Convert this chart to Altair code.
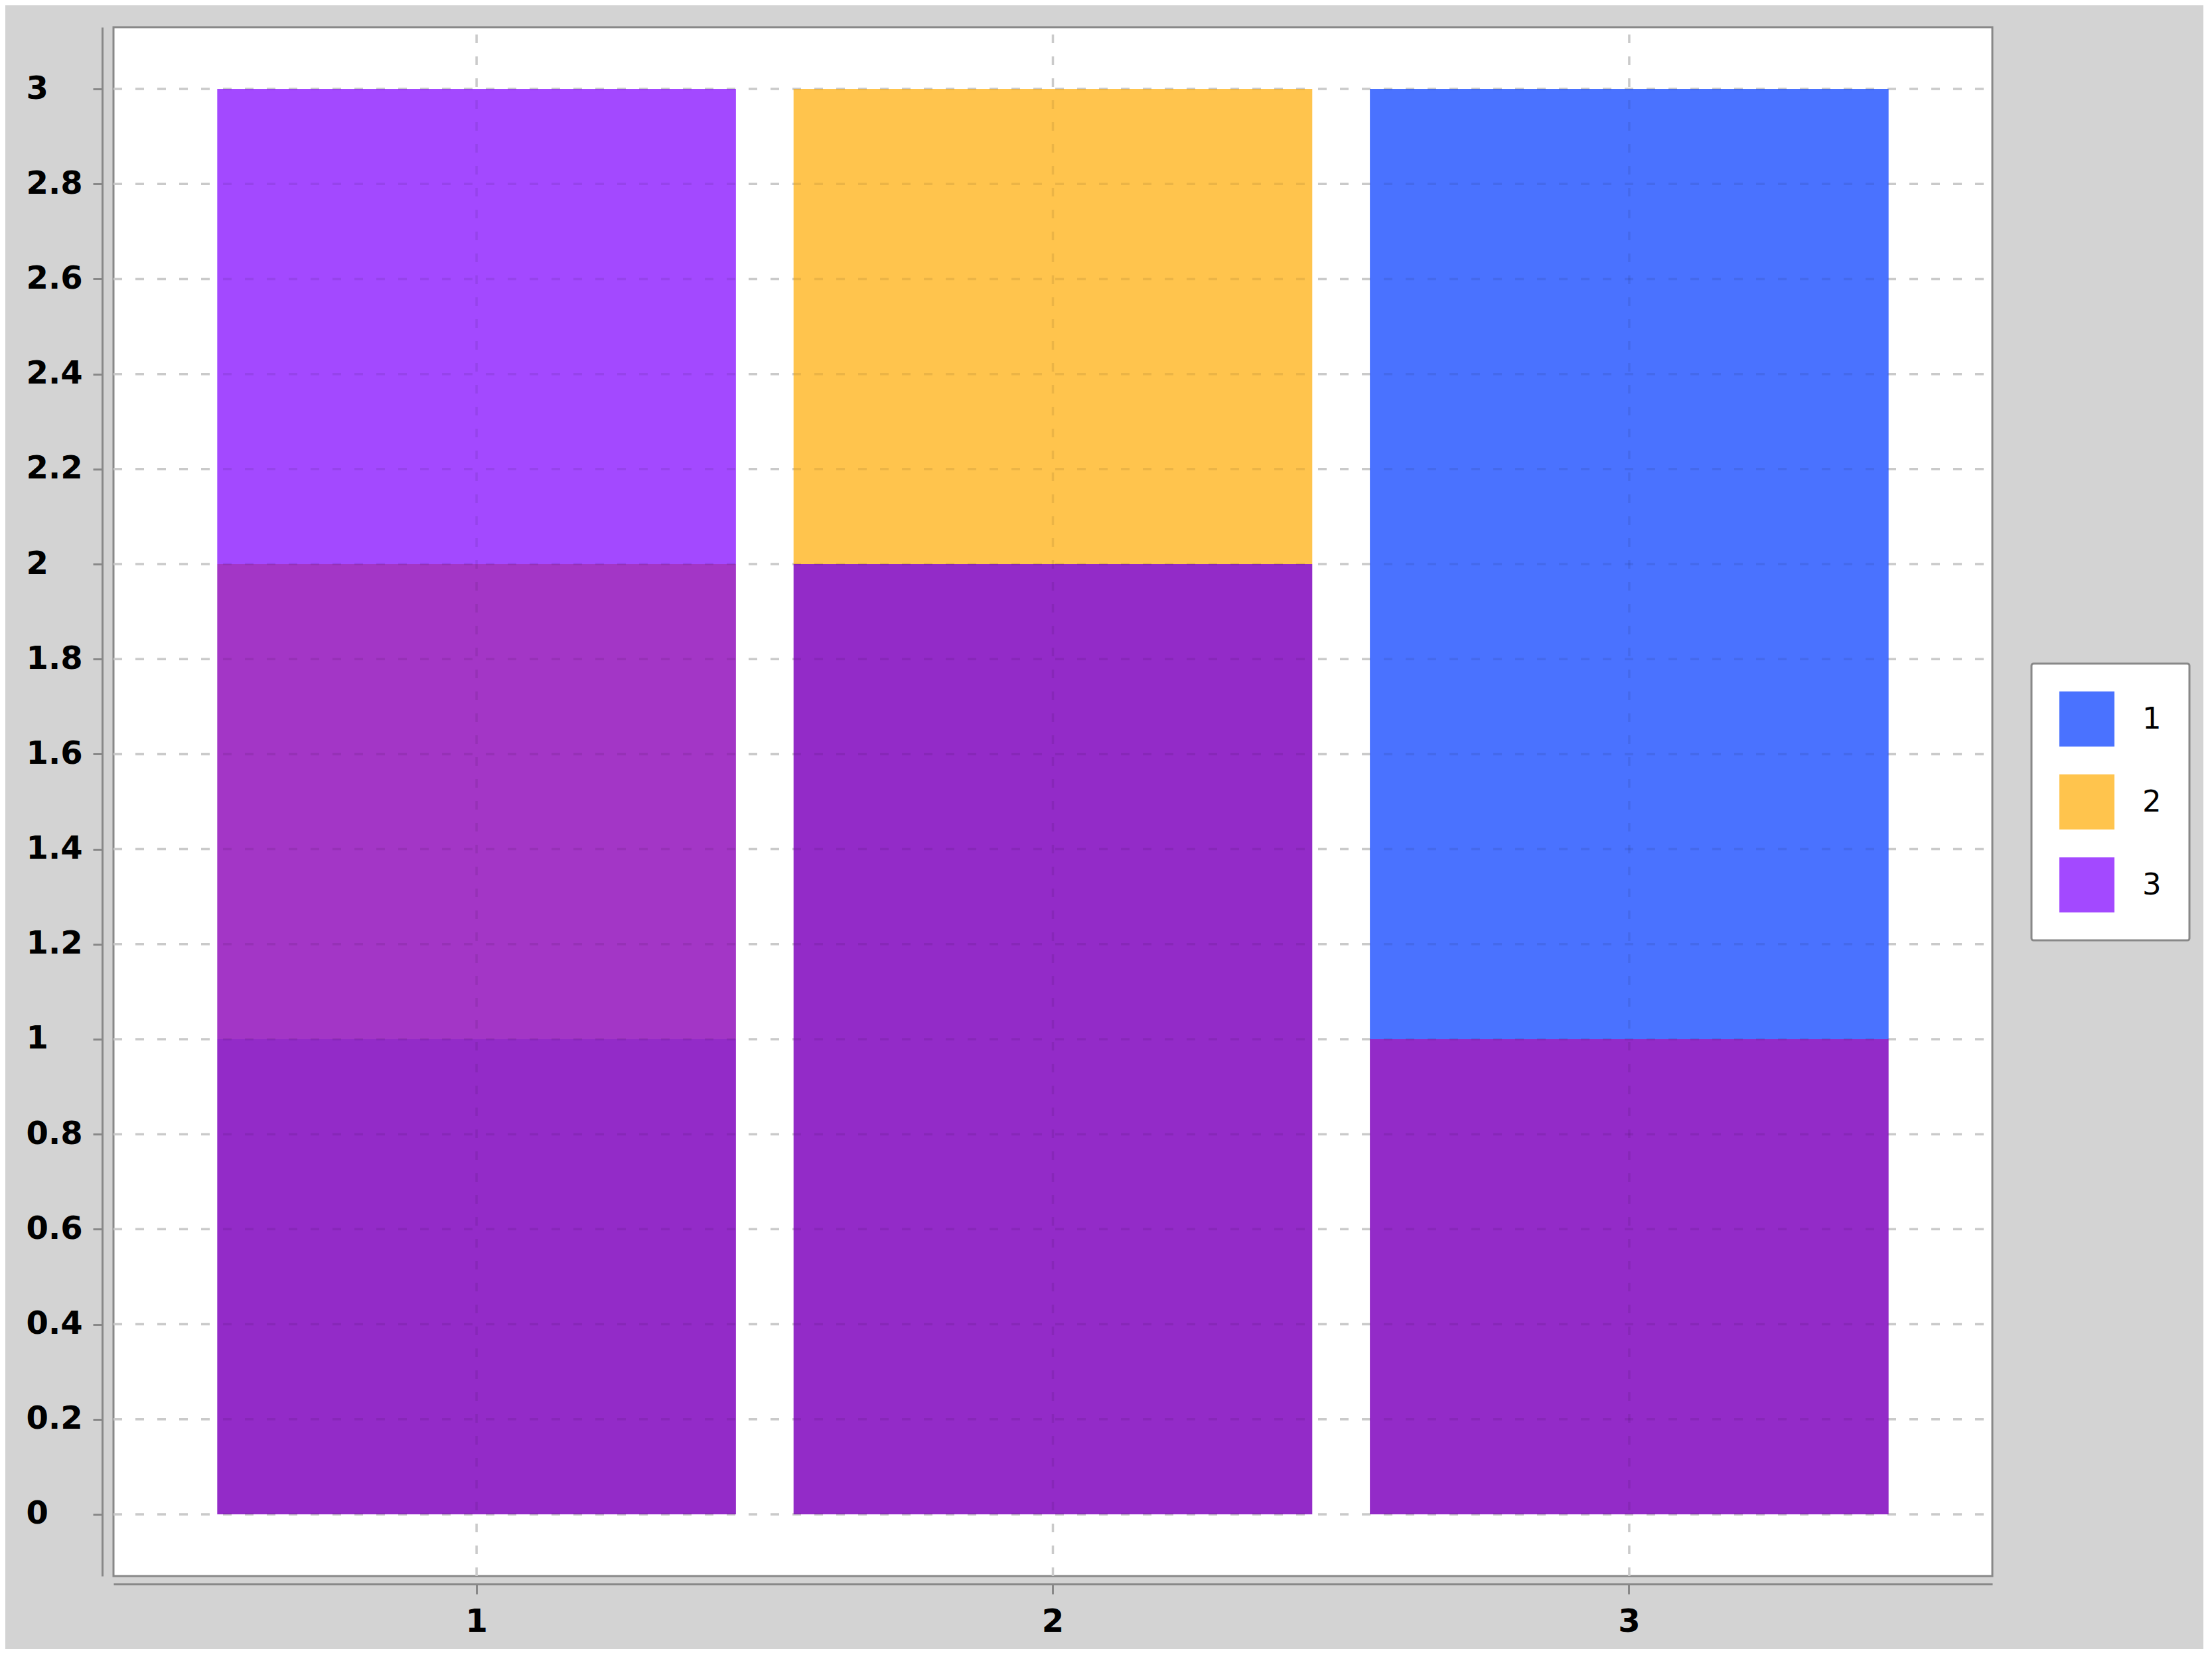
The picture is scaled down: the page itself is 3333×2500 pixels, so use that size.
import altair as alt
import pandas as pd

# ---- data ----
categories = ["1", "2", "3"]
series_names = ["1", "2", "3"]
series_colors = ["#4A72FF", "#FFC44D", "#A349FF"]

# stacked segments per category (start / end value and colour key)
seg_category = ["1", "1", "1", "2", "2", "3", "3"]
seg_from = [0, 1, 2, 0, 2, 0, 1]
seg_to = [1, 2, 3, 2, 3, 1, 3]
seg_key = ["overlap", "overlap2", "3", "overlap", "2", "overlap", "1"]

extra_keys = ["overlap", "overlap2"]
extra_colors = ["#932BC8", "#A336C6"]

y_ticks = [0, 0.2, 0.4, 0.6, 0.8, 1, 1.2, 1.4, 1.6, 1.8, 2, 2.2, 2.4, 2.6, 2.8, 3]
y_domain = [-0.13, 3.13]

seg_df = pd.DataFrame({"category": seg_category, "start": seg_from, "end": seg_to, "key": seg_key})
ytick_df = pd.DataFrame({"v": y_ticks})
cat_df = pd.DataFrame({"category": categories})

W, H = 2831, 2334
FONT = "DejaVu Sans"
AX = "#888888"

xscale = alt.Scale(domain=categories, paddingInner=0.1, paddingOuter=0.18)
yscale = alt.Scale(domain=y_domain, nice=False, zero=False)

x_axis = alt.Axis(
    title=None, labelAngle=0, labelFont=FONT, labelFontSize=48, labelFontWeight="bold",
    labelColor="black", labelPadding=18, tickSize=15, tickWidth=3, tickColor=AX,
    domainColor=AX, domainWidth=3, offset=12, grid=False, labelOverlap=False,
)
y_axis = alt.Axis(
    title=None, values=y_ticks, format="~g", labelFont=FONT, labelFontSize=48,
    labelFontWeight="bold", labelColor="black", labelAlign="left", labelBaseline="middle",
    labelPadding=101, tickSize=14, tickWidth=3, tickColor=AX, domainColor=AX,
    domainWidth=3, offset=17, grid=False, labelOverlap=False,
)

def hgrid(color, opacity):
    return alt.Chart(ytick_df).mark_rule(
        color=color, opacity=opacity, strokeWidth=3.5, strokeDash=[13, 20]
    ).encode(
        y=alt.Y("v:Q", scale=yscale, axis=y_axis),
        x=alt.value(0), x2=alt.value(W),
    )

def vgrid(color, opacity):
    return alt.Chart(cat_df).mark_rule(
        color=color, opacity=opacity, strokeWidth=3.5, strokeDash=[13, 20]
    ).encode(
        x=alt.X("category:N", scale=xscale, axis=x_axis),
        y=alt.value(H), y2=alt.value(0),
    )

bars = alt.Chart(seg_df).mark_bar(opacity=1).encode(
    x=alt.X("category:N", scale=xscale, axis=x_axis),
    y=alt.Y("start:Q", scale=yscale, axis=y_axis),
    y2="end:Q",
    color=alt.Color(
        "key:N",
        scale=alt.Scale(domain=series_names + extra_keys, range=series_colors + extra_colors),
        legend=alt.Legend(
            values=series_names, title=None, orient="none", legendX=2890, legendY=959,
            symbolType="square", symbolSize=6889, symbolStrokeWidth=0, symbolOpacity=1,
            labelFont=FONT, labelFontSize=45, labelColor="black", labelOffset=42,
            strokeColor=AX, fillColor="white", cornerRadius=3,
        ),
    ),
)

chart = alt.layer(
    hgrid("#DCDCDC", 1), vgrid("#DCDCDC", 1), bars, hgrid("#000000", 0.08), vgrid("#000000", 0.08)
).properties(
    width=W, height=H,
    padding={"left": 163, "top": 33, "right": 318, "bottom": 110},
    autosize=alt.AutoSizeParams(type="none"),
    background="#D3D3D3",
).configure_view(
    stroke=AX, strokeWidth=3, fill="white",
).configure_legend(
    strokeWidth=3, rowPadding=42, padding=42,
)

chart.save("out.html", embed_options={"renderer": "svg", "actions": False})
